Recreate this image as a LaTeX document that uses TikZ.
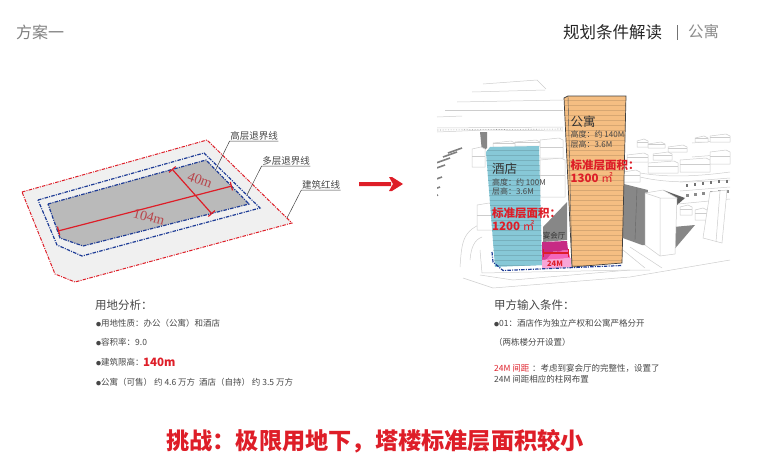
\documentclass[tikz,border=0pt]{standalone}
\usepackage{fontspec}
\setmainfont{Noto Sans CJK SC}
\newfontfamily\dimfont{Liberation Serif}
\definecolor{planred}{RGB}{222,30,40}
\definecolor{planblue}{RGB}{30,60,150}
\definecolor{txtgrey}{RGB}{70,70,70}
\definecolor{siteline}{RGB}{205,205,205}
\definecolor{shadowgrey}{RGB}{135,135,135}
\definecolor{towerorange}{RGB}{245,190,130}
\definecolor{towerblue}{RGB}{135,200,215}
\newcommand{\dotmark}{{\fontsize{5}{5}\selectfont ●}}
\tikzset{
  redline/.style={planred,dash pattern=on 3.5pt off 1.2pt on 1pt off 1.2pt,line width=1pt},
  blueline/.style={planblue,dash pattern=on 3.5pt off 1.2pt on 1pt off 1.2pt,line width=1.2pt},
  leader/.style={black!75,line width=0.5pt},
  dimline/.style={planred,line width=1.2pt,|-|},
  tag/.style={font=\fontsize{9.5}{11}\selectfont,text=txtgrey,inner sep=0.5pt},
  bodytxt/.style={font=\fontsize{8.5}{13}\selectfont,text=txtgrey,anchor=west,inner sep=0pt},
  headtxt/.style={font=\fontsize{11.5}{13}\selectfont,text=txtgrey,anchor=west,inner sep=0pt},
  redtxt/.style={font=\bfseries\fontsize{11.5}{15}\selectfont,text=planred,anchor=west,inner sep=0pt},
  towername/.style={font=\fontsize{12.5}{15}\selectfont,text=black!80,anchor=west,inner sep=0pt},
  towernote/.style={font=\fontsize{8}{9}\selectfont,text=txtgrey,anchor=west,inner sep=0pt},
  block/.style={fill=white,draw=siteline,line width=0.5pt},
  sitecurve/.style={draw=siteline,line width=0.5pt},
}
\begin{document}
\begin{tikzpicture}[x=1pt,y=-1pt]
\useasboundingbox (0,0) rectangle (760,471);
\node[anchor=west,inner sep=0pt,font=\fontsize{16}{18}\selectfont,text=black!50] (scheme) at (16,32) {方案一};
\node[anchor=west,inner sep=0pt,font=\fontsize{16.5}{18}\selectfont,text=black!85] (planhead) at (563,32) {规划条件解读};
\node[anchor=west,inner sep=0pt,font=\fontsize{15.5}{18}\selectfont,text=black!45] (flathead) at (688,32) {公寓};
\coordinate (bara) at (677.5,25);
\coordinate (barb) at (677.5,40);
\draw[black!55,line width=0.8pt] (bara) -- (barb);
% site plan
\fill[black!6] (22,192) -- (207,140) -- (292,223) -- (75,282) -- (55,274) -- cycle;
\fill[black!27] (48,204) -- (206,160) -- (249,204) -- (83,246) -- (60,238) -- cycle;
\draw[redline] (22,192) -- (207,140) -- (292,223) -- (75,282) -- (55,274) -- cycle;
\draw[blueline] (38,200) -- (204,153) -- (260,208) -- (82,256) -- (57,245) -- cycle;
\draw[blueline] (48,204) -- (206,160) -- (249,204) -- (83,246) -- (60,238) -- cycle;
\coordinate (longa) at (58,231);
\coordinate (longb) at (232,186);
\coordinate (shorta) at (172,169);
\coordinate (shortb) at (212,214);
\draw[dimline] (longa) -- (longb);
\draw[dimline] (shorta) -- (shortb);
\node[rotate=-15,font=\dimfont\fontsize{14}{16}\selectfont,text=planred!75!black!80,inner sep=0pt] (longlbl) at (149,217) {104m};
\node[rotate=-20,font=\dimfont\fontsize{14}{16}\selectfont,text=planred!75!black!80,inner sep=0pt] (shortlbl) at (200,180) {40m};
\node[tag] (highlbl) at (254,136) {高层退界线};
\node[tag] (midlbl) at (286,161) {多层退界线};
\node[tag] (redlbl) at (321,185) {建筑红线};
\coordinate (hightip) at (216,169);
\coordinate (midtip) at (247,195);
\coordinate (redtip) at (287,218);
\draw[leader] (highlbl.south east) -- (highlbl.south west) -- (hightip);
\draw[leader] (midlbl.south east) -- (midlbl.south west) -- (midtip);
\draw[leader] (redlbl.south east) -- (redlbl.south west) -- (redtip);
\fill[planred] (359,182) rectangle (391,186) (389,177) -- (392,177) -- (403,184) -- (392,191) -- (389,191) -- (393,184) -- cycle;
% context behind the towers
\begin{scope}[sitecurve]
\draw (483,84) -- (537,80) -- (546,89);
\draw (472,92) -- (545,90);
\draw (457,102) -- (563,100);
\draw (445,110) -- (563,110);
\draw (437,117) -- (462,116);
\draw (437,128) -- (563,127);
\draw (437,132) -- (487,130) -- (563,131);
\draw (640,173) .. controls (670,178) and (700,176) .. (730,172);
\draw (640,177) .. controls (670,184) and (700,182) .. (730,180);
\draw (692,143) -- (730,140) (692,157) -- (730,154);
\draw (460,267) .. controls (462,240) and (462,228) .. (493,220);
\draw (470,260) .. controls (471,248) and (474,240) .. (482,237);
\draw (463,278) -- (493,288) -- (630,277) -- (730,260);
\draw (480,275) -- (513,280) -- (630,270) -- (650,270);
\draw (480,250) -- (482,273) -- (630,270);
\draw (623,250) -- (645,268) (630,247) -- (662,268);
\end{scope}
\draw[black!40,line width=0.6pt,densely dotted] (437,130) -- (563,129);
\fill[shadowgrey] (480,132) -- (487,132) -- (487,148) -- (482,152) -- cycle;
\begin{scope}
\clip (437,130) rectangle (470,200);
\foreach \xa/\ya in {462/148, 457/152, 450/158, 445/165, 442/177, 440/187, 438/195} {
  \draw[black!50,line width=1.6pt] (\xa,\ya) -- (\xa-14,\ya+5);
}
\end{scope}
\foreach \xa/\ya/\xb/\yb in {637/139/648/147, 648/142/665/148, 695/136/708/142, 710/134/730/142,
  668/145/687/152, 653/152/672/160, 627/153/648/162, 648/161/678/173, 680/158/710/172, 710/150/730/164,
  623/170/640/182, 472/147/485/167, 477/203/493/230, 540/158/565/197, 493/141/515/147, 515/140/540/146,
  540/138/563/158, 680/205/692/215, 695/208/707/220} {
  \draw[block] (\xa,\ya+2) -- (\xb-4,\ya) -- (\xb,\ya+2) -- (\xb,\yb) -- (\xa,\yb) -- cycle;
  \draw[sitecurve] (\xa,{0.55*\ya+0.45*\yb}) -- (\xb,{0.55*\ya+0.45*\yb});
}
\fill[shadowgrey] (543,227) -- (567,202) -- (567,240) -- (543,242) -- cycle;
\fill[shadowgrey] (620,183) -- (648,190) -- (645,245) -- (642,245) -- (620,237) -- cycle;
\draw[black!60] (637,188) -- (635,240);
\fill[shadowgrey] (673,227) -- (695,225) -- (672,252) -- cycle;
\fill[shadowgrey!70!black] (663,190) -- (685,198) -- (677,205) -- (660,196) -- cycle;
\foreach \xa in {686,694,...,726} {
  \fill[black!55] (\xa,{184-(\xa-682)*0.1}) rectangle +(2,3);
  \fill[black!45] (\xa,{194-(\xa-682)*0.1}) rectangle +(3,3);
}
\draw[sitecurve] (680,182) -- (730,178) (680,191) -- (730,187) (678,204) -- (730,199);
\draw[block] (645,193) -- (663,190) -- (677,198) -- (675,254) -- (660,256) -- (645,245) -- cycle;
\draw[sitecurve] (645,193) -- (660,198) -- (677,198) (660,198) -- (660,256);
\draw[block] (710,192) -- (727,190) -- (722,243) -- (703,238) -- cycle;
\draw[sitecurve] (720,191) -- (716,242);
% banquet hall between the towers
\fill[magenta!80!black] (542,242) -- (567,241) -- (568,250) -- (542,253) -- cycle;
\fill[magenta!85!black!85] (542,253) -- (568,250) -- (570,258) -- (542,260) -- cycle;
\fill[magenta!60!white] (552,253) -- (568,250) -- (570,258) -- (546,260) -- cycle;
\fill[magenta!35!white] (542,260) -- (571,258) -- (571,267) -- (542,269) -- cycle;
\coordinate (gapa) at (543,253);
\coordinate (gapb) at (569,253);
\draw[dimline] (gapa) -- (gapb);
\node[font=\fontsize{7.5}{9}\selectfont,text=black!80,inner sep=0pt] (banquet) at (554,236) {宴会厅};
\node[font=\bfseries\fontsize{7.5}{9}\selectfont,text=planred,inner sep=0pt] (gaplbl) at (555,263.5) {24M};
% towers
\fill[towerblue] (486,152) -- (490,147) -- (539,146) -- (542,265) -- (495,267) -- cycle;
\fill[towerorange] (564,98) -- (568,96) -- (626,96) -- (622,263) -- (572,267) -- cycle;
\begin{scope}
\clip (486,152) -- (490,147) -- (539,146) -- (542,265) -- (495,267) -- cycle;
\foreach \ya in {150,155,...,265} { \draw[towerblue!88!black,line width=0.25pt] (484,\ya) -- (544,\ya); }
\end{scope}
\begin{scope}
\clip (564,98) -- (568,96) -- (626,96) -- (622,263) -- (572,267) -- cycle;
\foreach \ya in {100,105,...,265} { \draw[towerorange!88!black,line width=0.25pt] (562,\ya) -- (628,\ya); }
\end{scope}
\draw[black!75,line width=0.7pt] (564,98) -- (568,96) -- (626,96) -- (622,263) -- (572,267) -- cycle;
\draw[black!65,line width=0.4pt] (568,96) -- (572,267);
\draw[blueline] (492,252) -- (493,262) -- (503,270.5) -- (622,265.5);
% tower notes
\node[towername] (flatname) at (570.5,122) {公寓};
\node[towernote] (flatnotea) at (570.5,134) {高度：约 140M};
\node[towernote] (flatnoteb) at (570.5,144) {层高：3.6M};
\node[redtxt] (flatarea) at (570.5,165) {标准层面积：};
\node[redtxt] (flatval) at (570.5,178) {1300 {\mdseries ㎡}};
\node[towername] (hotelname) at (492,169) {酒店};
\node[towernote] (hotelnotea) at (492,182) {高度：约 100M};
\node[towernote] (hotelnoteb) at (492,191) {层高：3.6M};
\node[redtxt] (hotelarea) at (492,213) {标准层面积：};
\node[redtxt] (hotelval) at (492,226) {1200 {\mdseries ㎡}};
% site analysis
\node[headtxt] (analysis) at (95,305) {用地分析：};
\node[bodytxt] (linea) at (96,323) {\dotmark 用地性质：办公（公寓）和酒店};
\node[bodytxt] (lineb) at (96,342) {\dotmark 容积率：9.0};
\node[bodytxt] (linec) at (96,362) {\dotmark 建筑限高：};
\node[redtxt] (lined) at (143,362) {140m};
\node[bodytxt] (linee) at (96,382) {\dotmark 公寓（可售） 约 4.6 万方 \ 酒店（自持） 约 3.5 万方};
% client input
\node[headtxt] (inputs) at (494,305) {甲方输入条件：};
\node[bodytxt] (inputa) at (494,323) {\dotmark 01：酒店作为独立产权和公寓严格分开};
\node[bodytxt] (inputb) at (494,342) {（两栋楼分开设置）};
\node[bodytxt,text=planred] (inputc) at (494,368) {24M 间距};
\node[bodytxt] (inputd) at (532,368) {：考虑到宴会厅的完整性，设置了};
\node[bodytxt] (inpute) at (494,379) {24M 间距相应的柱网布置};
\node[inner sep=0pt,font=\bfseries\fontsize{23.2}{27}\selectfont,text=planred] (challenge) at (375,441) {挑战：极限用地下，塔楼标准层面积较小};
\end{tikzpicture}
\end{document}
